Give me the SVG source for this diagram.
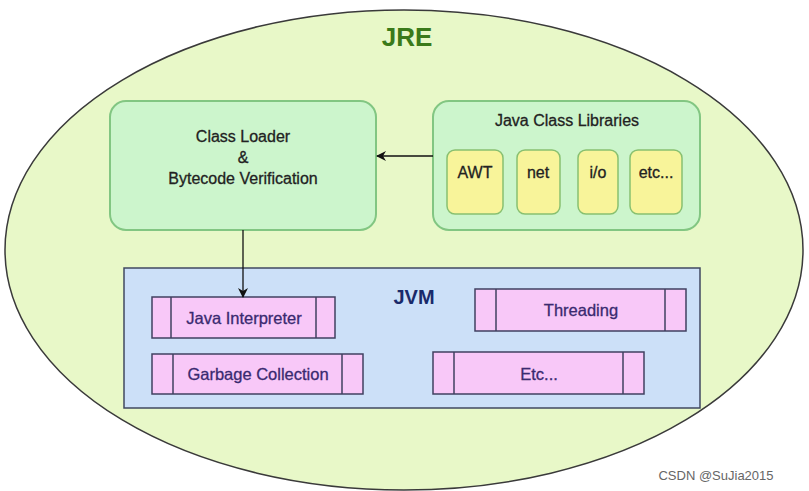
<svg xmlns="http://www.w3.org/2000/svg" width="809" height="491" viewBox="0 0 809 491">
<defs>
<style>
text{font-family:"Liberation Sans",Arial,sans-serif;text-anchor:middle}
.g{fill:#ccf5cc;stroke:#82c682;stroke-width:2}
.y{fill:#f8f49a;stroke:#88c070;stroke-width:1.5}
.p{fill:#f8c8f8;stroke:#404060;stroke-width:1.5}
.t{font-size:16px;fill:#222;stroke:#222;stroke-width:0.3}
.pt{font-size:16.5px;fill:#3a2a70;stroke:#3a2a70;stroke-width:0.3}
</style>
<marker id="a" markerWidth="10" markerHeight="10" refX="9" refY="5" orient="auto" markerUnits="userSpaceOnUse"><path d="M0,0 L10,5 L0,10 L3,5 Z" fill="#111"/></marker>
</defs>
<rect width="809" height="491" fill="#fff"/>
<g id="jre"><ellipse cx="404" cy="250" rx="399" ry="240" fill="#e8f8c8" stroke="#3a3a3a" stroke-width="1.5"/>
<text x="407" y="46" font-size="26" font-weight="bold" fill="#3a7a1a">JRE</text></g>
<g id="loader"><rect class="g" x="110" y="101" width="266" height="129" rx="16"/>
<text class="t" x="243" y="142">Class Loader</text><text class="t" x="243" y="163">&amp;</text><text class="t" x="243" y="184">Bytecode Verification</text></g>
<g id="libs"><rect class="g" x="433" y="101" width="267" height="129" rx="16"/>
<text class="t" x="567" y="126">Java Class Libraries</text>
<rect class="y" x="447" y="150" width="56" height="64" rx="8"/><text class="t" x="475" y="178">AWT</text>
<rect class="y" x="517" y="150" width="43" height="64" rx="8"/><text class="t" x="538" y="178">net</text>
<rect class="y" x="578" y="150" width="40" height="64" rx="8"/><text class="t" x="598" y="178">i/o</text>
<rect class="y" x="630" y="150" width="52" height="64" rx="8"/><text class="t" x="656" y="178">etc...</text></g>
<g id="jvm"><rect x="124" y="268" width="576" height="140" fill="#cce0f8" stroke="#404860" stroke-width="1.5"/>
<text x="414" y="304" font-size="20" font-weight="bold" fill="#1a2a6a">JVM</text></g>
<g id="interp"><rect class="p" x="152" y="297" width="183" height="41"/><path d="M171,297V338M316,297V338" stroke="#404060" stroke-width="1.5"/><text class="pt" x="244" y="324">Java Interpreter</text></g>
<g id="thread"><rect class="p" x="475" y="289" width="211" height="42"/><path d="M496,289V331M665,289V331" stroke="#404060" stroke-width="1.5"/><text class="pt" x="581" y="316">Threading</text></g>
<g id="gc"><rect class="p" x="152" y="354" width="211" height="40"/><path d="M173,354V394M342,354V394" stroke="#404060" stroke-width="1.5"/><text class="pt" x="258" y="380">Garbage Collection</text></g>
<g id="etc"><rect class="p" x="433" y="352" width="211" height="42"/><path d="M454,352V394M623,352V394" stroke="#404060" stroke-width="1.5"/><text class="pt" x="539" y="380">Etc...</text></g>
<g id="connectors" stroke="#111" stroke-width="1.3" fill="none">
<line x1="433" y1="156" x2="377" y2="156" marker-end="url(#a)"/>
<line x1="243" y1="230" x2="243" y2="297" marker-end="url(#a)"/>
</g>
<text x="716" y="480" font-size="13" fill="#666">CSDN @SuJia2015</text>
</svg>
